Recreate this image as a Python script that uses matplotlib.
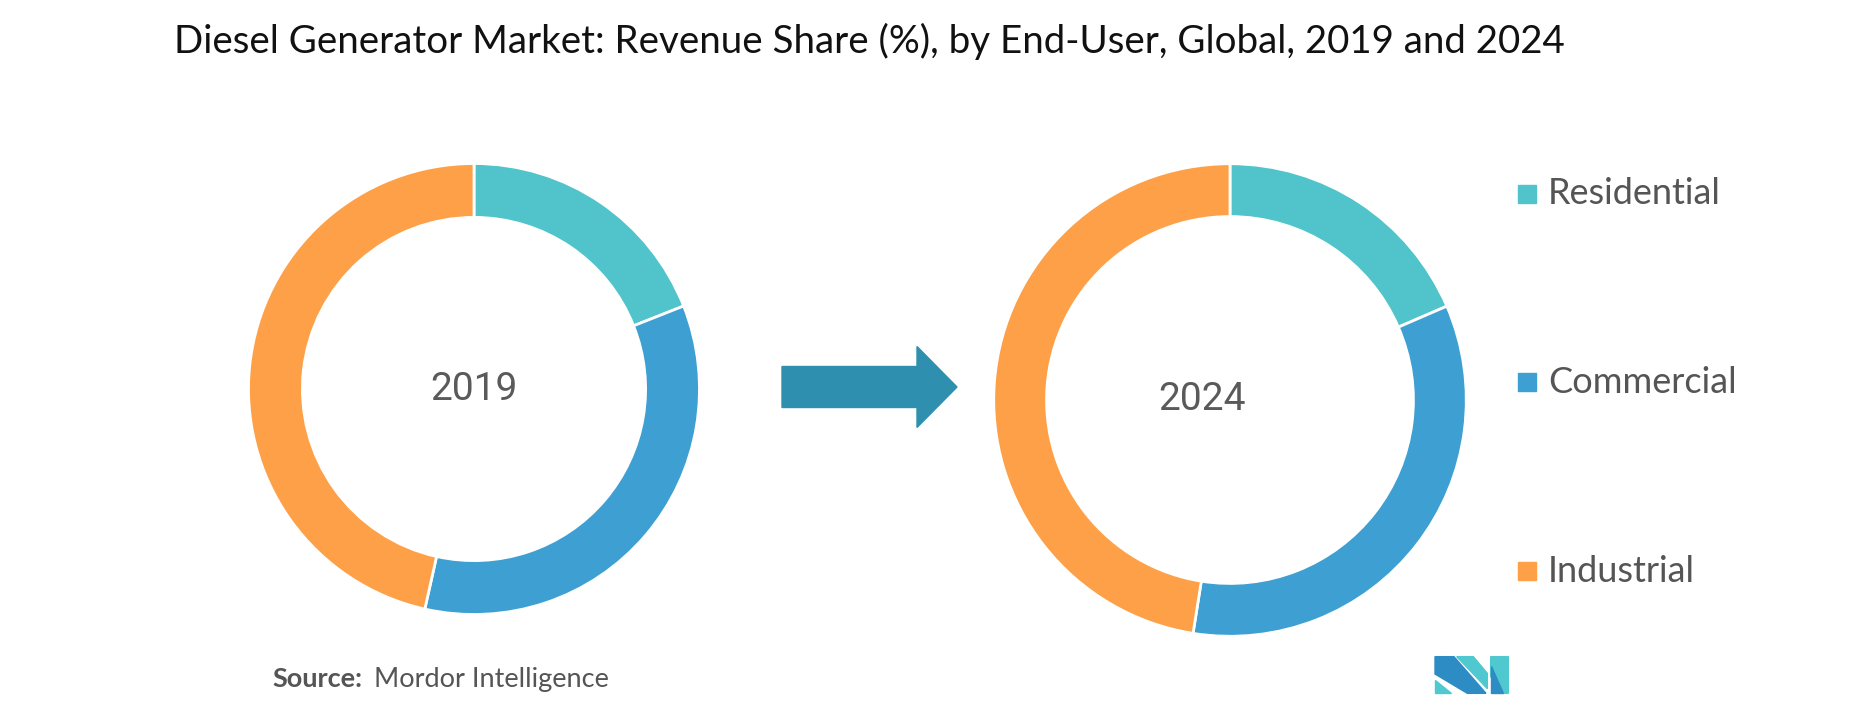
import matplotlib.pyplot as plt
from matplotlib.patches import Rectangle, Polygon, FancyArrow

# data
categories = ['Residential', 'Commercial', 'Industrial']
share_2019 = [19.0, 34.5, 46.5]
share_2024 = [18.5, 34.0, 47.5]
years = ['2019', '2024']
colors = ['#50C4CA', '#3D9FD2', '#FEA047']

W, H = 1854, 713
fig = plt.figure(figsize=(W / 100, H / 100), dpi=100)


def px_axes(cx, cy, r):
    # axes box in pixel coords (from top-left), converted to figure fraction
    return fig.add_axes([(cx - r) / W, (H - cy - r) / H, 2 * r / W, 2 * r / H])


def donut(ax, vals, width, label, label_dx=0):
    ax.pie(vals, colors=colors, startangle=90, counterclock=False, radius=1,
           wedgeprops=dict(width=width, edgecolor='white', linewidth=2))
    ax.set_xlim(-1.02, 1.02)
    ax.set_ylim(-1.02, 1.02)
    ax.set_aspect('equal')
    ax.text(label_dx, 0, label, ha='center', va='center', fontsize=28,
            color='#5a5a5a', family='Roboto')
    ax.axis('off')


ax1 = px_axes(474, 389, 230)
donut(ax1, share_2019, 1 - 172 / 226, years[0])

ax2 = px_axes(1230, 400, 241)
donut(ax2, share_2024, 1 - 184 / 237, years[1], label_dx=-0.12)

# title
fig.text(174 / W, 1 - 41 / H, 'Diesel Generator Market: Revenue Share (%), by End-User, Global, 2019 and 2024',
         fontsize=27.7, family='Lato', color='#111111', ha='left', va='center')

# arrow between the two donuts
fig.patches.append(FancyArrow(782 / W, 1 - 387 / H, 135 / W, 0, width=41 / H,
                              head_width=81 / H, head_length=40 / W,
                              length_includes_head=False, color='#2E8FAF',
                              transform=fig.transFigure))

# legend
leg_y = [194, 382, 571]
for cat, col, y in zip(categories, colors, leg_y):
    fig.patches.append(Rectangle((1518 / W, 1 - (y + 9) / H), 18 / W, 18 / H,
                                 color=col, transform=fig.transFigure))
    fig.text(1548 / W, 1 - y / H, cat, fontsize=26, family='Lato',
             color='#555555', ha='left', va='center')

# source
fig.text(272 / W, 1 - 679 / H, 'Source:', fontsize=19.5, family='Lato',
         weight='bold', color='#555555', ha='left', va='center')
fig.text(374 / W, 1 - 679 / H, 'Mordor Intelligence', fontsize=19.5, family='Lato',
         color='#555555', ha='left', va='center')

# logo
def logo_poly(pts, col):
    p = [((1430 + x / 3) / W, 1 - (650 + y / 3) / H) for x, y in pts]
    fig.patches.append(Polygon(p, closed=True, color=col, transform=fig.transFigure))

dark, light = '#2E8CC4', '#50C8D0'
logo_poly([(15, 20), (72, 20), (168, 130), (112, 130), (15, 72)], dark)
logo_poly([(15, 90), (15, 130), (62, 130)], light)
logo_poly([(80, 20), (130, 20), (172, 70), (172, 116)], light)
logo_poly([(182, 20), (235, 20), (235, 130), (222, 130), (182, 80)], light)
logo_poly([(182, 48), (182, 130), (218, 130)], dark)

fig.savefig('out.png', dpi=100)
